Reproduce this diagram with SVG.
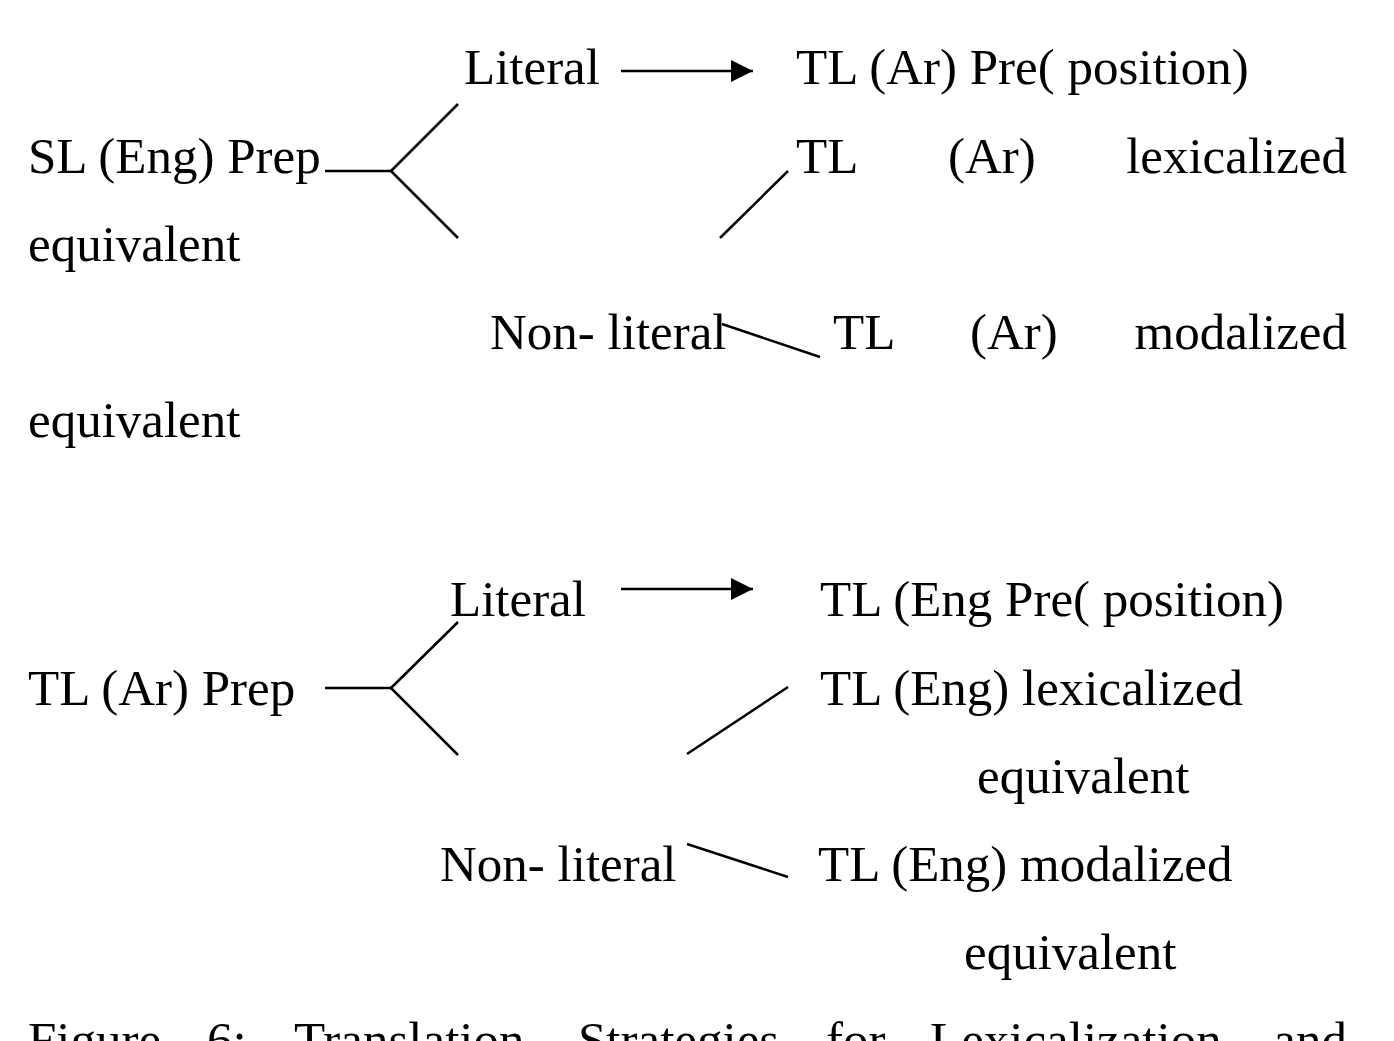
<svg xmlns="http://www.w3.org/2000/svg" width="1394" height="1041" viewBox="0 0 1394 1041">
<style>
text{font-family:"Liberation Serif","Times New Roman",serif;font-size:51px;fill:#000}
.c line{stroke:#000;stroke-width:2.5}
</style>
<defs><marker id="b" viewBox="0 0 10 10" markerWidth="22" markerHeight="22" refX="10" refY="5" orient="auto" markerUnits="userSpaceOnUse"><path d="M0,0L10,5L0,10z"/></marker></defs>
<rect width="1394" height="1041" fill="#fff"/>
<g id="n1"><text x="28" y="173">SL (Eng) Prep</text><text x="28" y="261">equivalent</text></g>
<g id="n2"><text x="464" y="84">Literal</text></g>
<g id="n3"><text x="796" y="84">TL (Ar) Pre( position)</text></g>
<g id="n4"><text x="796" y="173">TL</text><text x="948" y="173">(Ar)</text><text x="1347" y="173" text-anchor="end">lexicalized</text></g>
<g id="n5"><text x="490" y="349">Non- literal</text></g>
<g id="n6"><text x="833" y="349">TL</text><text x="970" y="349">(Ar)</text><text x="1347" y="349" text-anchor="end">modalized</text><text x="28" y="437">equivalent</text></g>
<g id="m1"><text x="28" y="705">TL (Ar) Prep</text></g>
<g id="m2"><text x="450" y="616">Literal</text></g>
<g id="m3"><text x="820" y="616">TL (Eng Pre( position)</text></g>
<g id="m4"><text x="820" y="705">TL (Eng) lexicalized</text><text x="977" y="793">equivalent</text></g>
<g id="m5"><text x="440" y="881">Non- literal</text></g>
<g id="m6"><text x="818" y="881">TL (Eng) modalized</text><text x="964" y="969">equivalent</text></g>
<g id="cap"><text x="28" y="1057">Figure</text><text x="207" y="1057">6:</text><text x="294" y="1057">Translation</text><text x="578" y="1057">Strategies</text><text x="826" y="1057">for</text><text x="930" y="1057">Lexicalization</text><text x="1347" y="1057" text-anchor="end">and</text></g>
<g class="c" id="connectors">
<line x1="325" y1="171" x2="391" y2="171"/><line x1="391" y1="171" x2="458" y2="104"/><line x1="391" y1="171" x2="458" y2="238"/>
<line x1="621" y1="71" x2="753" y2="71" marker-end="url(#b)"/>
<line x1="720" y1="238" x2="788" y2="171"/><line x1="722" y1="324" x2="820" y2="357"/>
<line x1="325" y1="688" x2="391" y2="688"/><line x1="391" y1="688" x2="458" y2="622"/><line x1="391" y1="688" x2="458" y2="755"/>
<line x1="621" y1="589" x2="753" y2="589" marker-end="url(#b)"/>
<line x1="687" y1="754" x2="788" y2="687"/><line x1="687" y1="844" x2="788" y2="877"/>
</g>
</svg>
